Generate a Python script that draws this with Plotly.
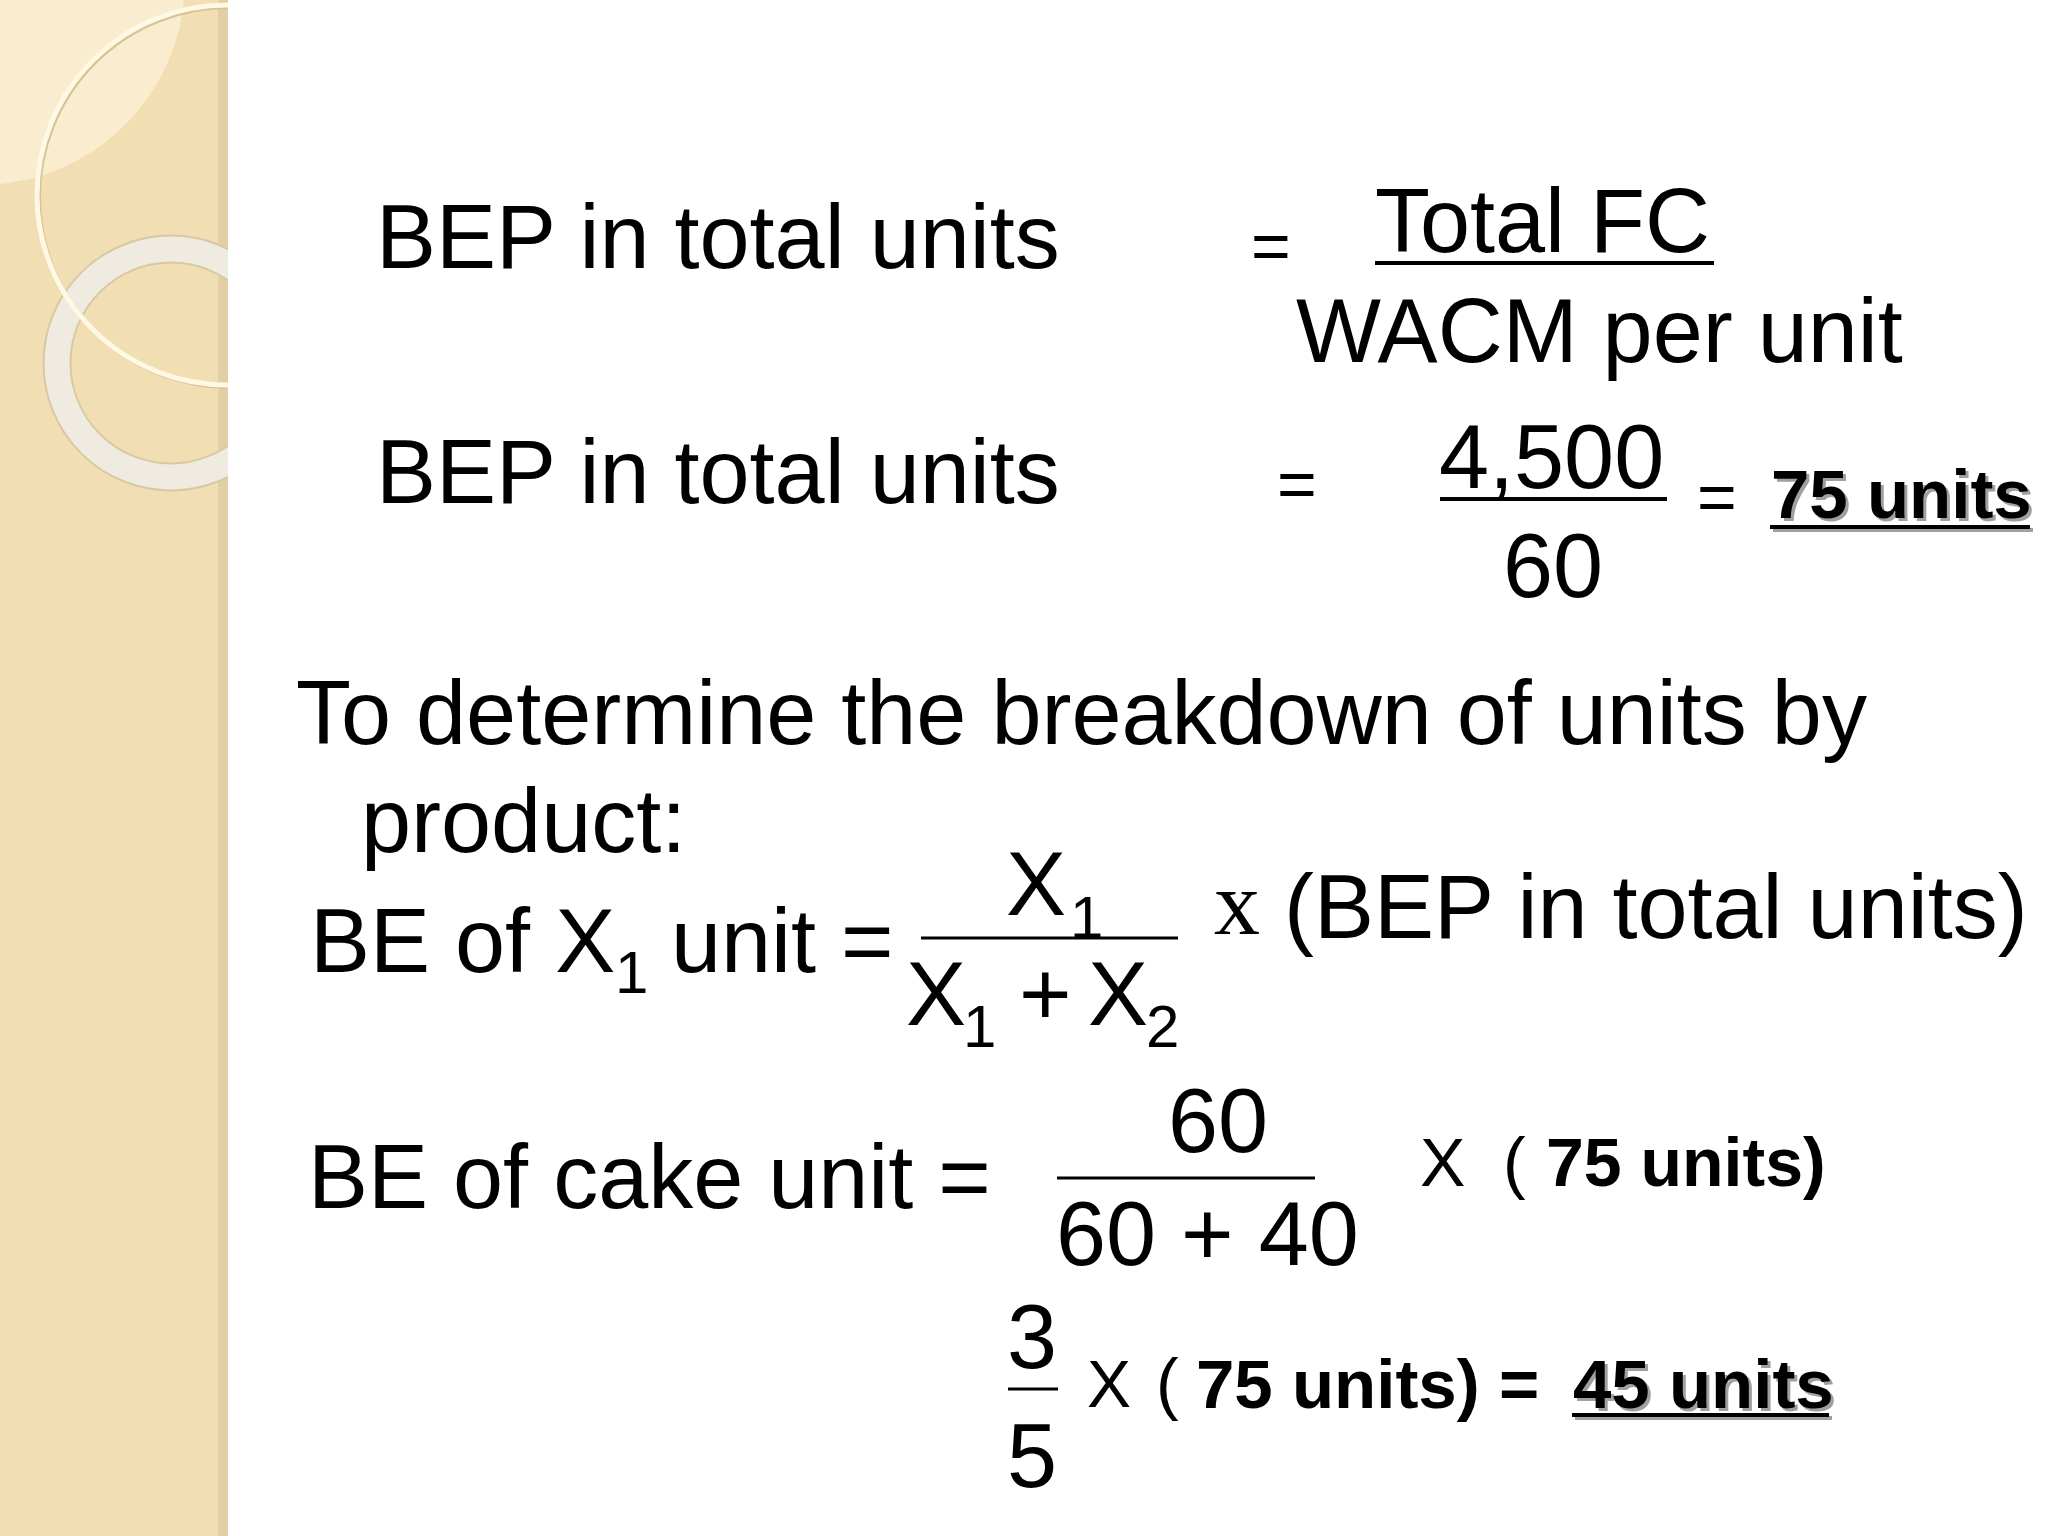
import plotly.graph_objects as go

# Figures on the slide
total_fc = 4500
wacm_per_unit = 60
bep_units = 75
cake_mix = 60
other_mix = 40
cake_ratio = ["3", "5"]
cake_units = 45

# Text lines
row_label = "BEP in total units"
frac_top = "Total FC"
frac_bottom = "WACM per unit"
intro_lines = ["To determine the breakdown of units by", "product:"]
be_x1_label = ["BE of X", "1", "unit ="]
be_cake_label = "BE of cake unit ="

SANS = "Liberation Sans, Arial, sans-serif"
SERIF = "Liberation Serif, Times New Roman, serif"

fig = go.Figure()
fig.add_trace(go.Scatter(x=[0, 2048], y=[0, 1536], mode="markers",
                         marker=dict(opacity=0), hoverinfo="skip", showlegend=False))


def put(text, x, base, size=90, bold=False, family=SANS, color="black"):
    # annotation is centred on the font box, so shift from baseline
    off = 0.3375 if family == SERIF else 0.3465
    if bold:
        text = "<b>" + text + "</b>"
    fig.add_annotation(x=x + 3, y=base - off * size, xref="x", yref="y", text=text,
                       showarrow=False, xanchor="left", yanchor="middle",
                       borderpad=0, borderwidth=0,
                       font=dict(family=family, size=size, color=color))


def bar(x0, x1, y, w=4, color="black"):
    fig.add_shape(type="line", x0=x0, x1=x1, y0=y, y1=y, xref="x", yref="y",
                  line=dict(color=color, width=w))


def shadowed(text, x, base, size, x1, uy):
    # bold, underlined, with a soft grey drop shadow
    put(text, x + 3, base + 3, size, bold=True, color="#a0a0a0")
    bar(x + 5, x1 + 3, uy + 3, 4, "#a0a0a0")
    put(text, x, base, size, bold=True)
    bar(x + 2, x1, uy, 4)


# left decorative panel
fig.add_shape(type="rect", x0=0, x1=219, y0=0, y1=1536, layer="below",
              fillcolor="#F2DEB3", line_width=0)
fig.add_shape(type="rect", x0=218, x1=228, y0=0, y1=1536, layer="below",
              fillcolor="#E2CFA5", line_width=0)
fig.add_shape(type="circle", x0=-225, x1=185, y0=-225, y1=185, layer="below",
              fillcolor="rgba(255,250,236,0.5)", line_width=0)
# thick ring
fig.add_shape(type="circle", x0=171 - 114, x1=171 + 114, y0=363 - 114, y1=363 + 114,
              layer="below", line=dict(color="#D9C9A2", width=29))
fig.add_shape(type="circle", x0=171 - 114, x1=171 + 114, y0=363 - 114, y1=363 + 114,
              layer="below", line=dict(color="#EFEBE0", width=25))
# thin ring
fig.add_shape(type="circle", x0=229 - 190, x1=229 + 190, y0=197 - 190, y1=197 + 190,
              layer="below", line=dict(color="#D6C397", width=4))
fig.add_shape(type="circle", x0=227 - 190, x1=227 + 190, y0=195 - 190, y1=195 + 190,
              layer="below", line=dict(color="#FFF8E4", width=5))
# white slide body hides the ring overflow
fig.add_shape(type="rect", x0=228, x1=2048, y0=0, y1=1536, layer="below",
              fillcolor="white", line_width=0)

# row 1
put(row_label, 373, 268)
put("=", 1248, 270, 68)
put(frac_top, 1372, 252)
bar(1375, 1714, 263)
put(frac_bottom, 1293, 362)

# row 2
put(row_label, 373, 503)
put("=", 1274, 508, 68)
put(f"{total_fc:,}", 1436, 488)
bar(1440, 1667, 499)
put(f"{wacm_per_unit}", 1500, 597)
put("=", 1694, 521, 68)
shadowed(f"{bep_units} units", 1768, 518, 69, 2030, 527)

# intro
put(intro_lines[0], 293, 744)
put(intro_lines[1], 358, 852)

# BE of X1
put(be_x1_label[0], 307, 972)
put(be_x1_label[1], 612, 993, 60)
put(be_x1_label[2], 668, 972)
put("X", 1003, 915)
put("1", 1067, 938, 60)
bar(921, 1178, 938, 3)
put("X", 903, 1025)
put("1", 960, 1047, 60)
put("+", 1016, 1025)
put("X", 1085, 1025)
put("2", 1143, 1047, 60)
put("x", 1211, 934, 92, family=SERIF)
put("(" + row_label + ")", 1281, 938)

# BE of cake
put(be_cake_label, 305, 1208)
put(f"{cake_mix}", 1165, 1152)
bar(1057, 1315, 1178, 3)
put(f"{cake_mix} + {other_mix}", 1053, 1265)
put("X", 1417, 1186, 68)
put("(", 1500, 1186, 68)
put(f"{bep_units} units)", 1543, 1186, 68, bold=True)

# final step
put(cake_ratio[0], 1004, 1368)
bar(1008, 1058, 1389, 3)
put(cake_ratio[1], 1004, 1487)
put("X", 1084, 1407, 66)
put("(", 1153, 1407, 68)
put(f"{bep_units} units) =", 1193, 1408, 69, bold=True)
shadowed(f"{cake_units} units", 1570, 1408, 69, 1829, 1415)

fig.update_layout(
    width=2048, height=1536,
    margin=dict(l=0, r=0, t=0, b=0),
    paper_bgcolor="white", plot_bgcolor="white",
    showlegend=False,
    xaxis=dict(range=[0, 2048], visible=False, fixedrange=True),
    yaxis=dict(range=[1536, 0], visible=False, fixedrange=True),
)

# drop the default page margin so the slide sits flush in the window
fig.write_html("out.html", config={"displayModeBar": False},
               post_script="document.body.style.margin='0';")
